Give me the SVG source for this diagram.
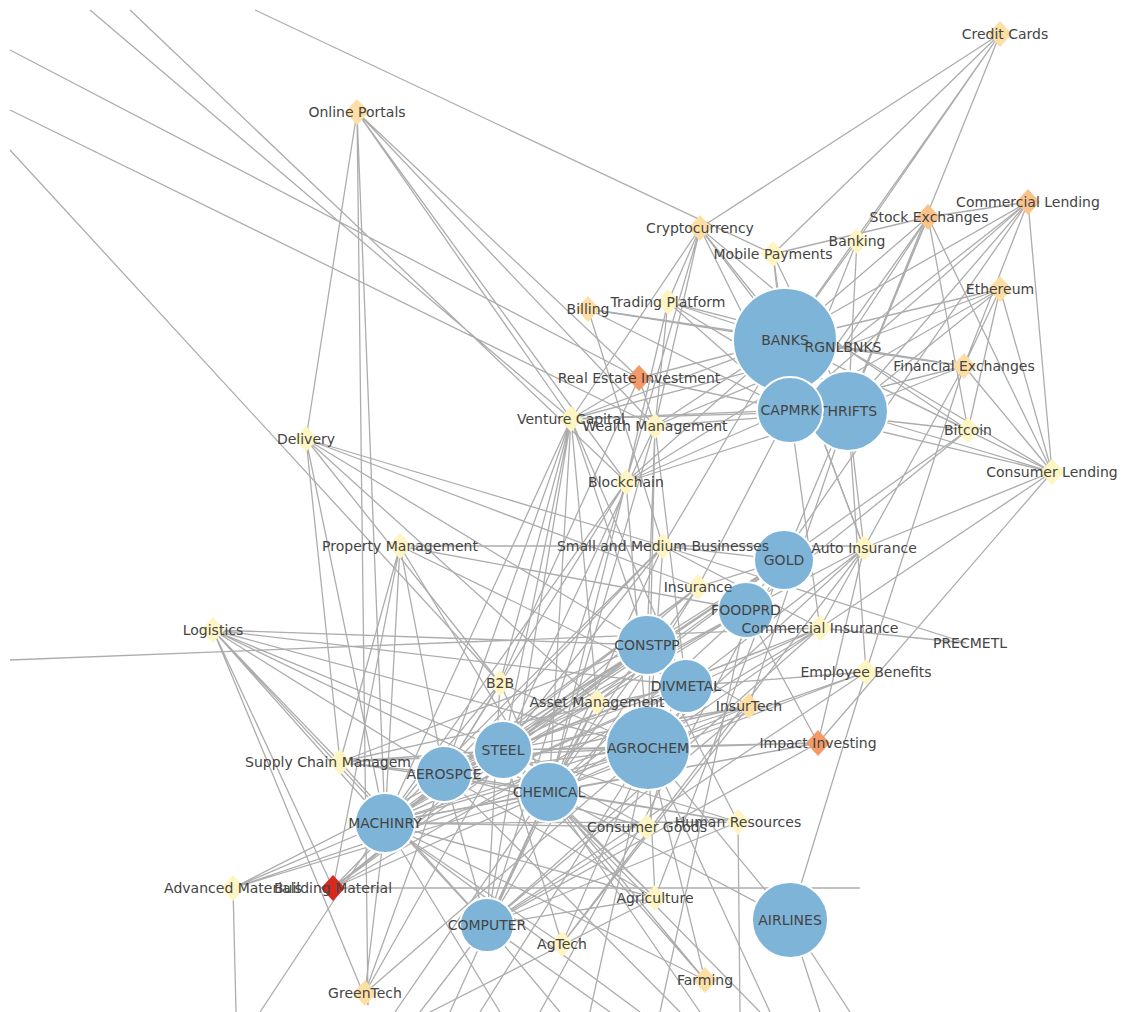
<svg xmlns="http://www.w3.org/2000/svg" width="1144" height="1012" viewBox="0 0 1144 1012">
<style>
.e{stroke:#adadad;stroke-width:1.3;fill:none}
.c{fill:#7db4d8;stroke:#fff;stroke-width:2}
.d{stroke:none}
text{font-family:"Lucida Grande","DejaVu Sans",sans-serif;font-size:14px;fill:#444;text-anchor:middle}
.y{fill:#fef5c2}.o{fill:#fddfa6}.p{fill:#fbc38a}.s{fill:#f49a68}.r{fill:#d62a1f}
</style>
<defs><path id="dm" d="M0,-13L12,0L0,13L-12,0Z"/></defs>
<rect width="1144" height="1012" fill="#fff"/>
<g id="edges" class="e">
<path d="M255,10L773,254M130,10L626,482M90,10L571,419M10,50L639,378M10,110L655,426M10,150L500,683M10,660L820,628"/>
<path d="M357,112L306,439M357,112L368,1005M357,112L571,419M357,112L626,482M357,112L639,378M357,112L385,823M357,112L655,426"/>
<path d="M1000,34L773,254M1000,34L857,241M1000,34L785,340M1000,34L848,411M1000,34L700,228"/>
<path d="M785,340L700,228M785,340L857,241M785,340L773,254M785,340L1000,289M785,340L588,309M785,340L668,302M785,340L639,378M785,340L964,366M785,340L571,419M785,340L655,426M785,340L968,430M785,340L1052,472M785,340L626,482M785,340L928,217M785,340L1028,202M785,340L663,546M785,340L864,548"/>
<path d="M790,410L700,228M790,410L857,241M790,410L773,254M790,410L1000,289M790,410L588,309M790,410L668,302M790,410L639,378M790,410L964,366M790,410L571,419M790,410L968,430M790,410L1052,472M790,410L626,482M790,410L928,217M790,410L1028,202M790,410L698,587M790,410L820,628"/>
<path d="M848,411L700,228M848,411L857,241M848,411L773,254M848,411L1000,289M848,411L668,302M848,411L964,366M848,411L571,419M848,411L655,426M848,411L1052,472M848,411L626,482M848,411L928,217M848,411L1028,202M848,411L864,548M848,411L866,672M848,411L749,706"/>
<path d="M843,347L700,228M843,347L928,217M843,347L1028,202M843,347L1000,289M843,347L588,309M843,347L668,302M843,347L964,366M843,347L655,426M843,347L968,430M843,347L1052,472M843,347L626,482M843,347L571,419"/>
<path d="M1028,202L1052,472M1028,202L964,366M1028,202L928,217M928,217L1052,472M928,217L968,430M928,217L773,254M1000,289L1052,472M1000,289L964,366M1000,289L968,430M964,366L1052,472M700,228L668,302M700,228L626,482M700,228L571,419M700,228L655,426M668,302L626,482M668,302L655,426M588,309L663,546M639,378L571,419M639,378L655,426M639,378L500,683"/>
<path d="M1052,472L864,548M1052,472L818,743M1052,472L820,628M968,430L784,560M968,430L746,610M964,366L820,628M964,366L866,672M928,217L784,560M1028,202L746,610"/>
<path d="M306,439L385,823M306,439L340,762M306,439L663,546M306,439L500,683M306,439L597,702M306,439L647,645M306,439L698,587"/>
<path d="M571,419L444,774M571,419L503,750M571,419L385,823M571,419L549,792M571,419L487,925M571,419L647,645M571,419L597,702M571,419L500,683M571,419L686,686M655,426L648,748M655,426L686,686M655,426L549,792M655,426L503,750M655,426L647,645M626,482L444,774M626,482L487,925M626,482L549,792M626,482L648,748M626,482L385,823"/>
<path d="M400,546L385,823M400,546L444,774M400,546L340,762M400,546L333,888M400,546L863,546M400,546L549,792M400,546L686,686M400,546L746,610"/>
<path d="M663,546L503,750M663,546L444,774M663,546L385,823M663,546L549,792M663,546L487,925M663,546L648,748M663,546L784,560M663,546L820,628M663,546L966,643"/>
<path d="M698,587L503,750M698,587L385,823M698,587L549,792M698,587L444,774M698,587L784,560M698,587L487,925M864,548L686,686M864,548L648,748M864,548L549,792M864,548L746,610M864,548L818,743M864,548L785,340"/>
<path d="M820,628L503,750M820,628L444,774M820,628L549,792M820,628L648,748M820,628L385,823M820,628L487,925M820,628L966,643M866,672L648,748M866,672L549,792M866,672L686,686M866,672L487,925M749,706L385,823M749,706L444,774M749,706L503,750M749,706L549,792M749,706L487,925M749,706L647,645"/>
<path d="M818,743L503,750M818,743L549,792M818,743L648,748M818,743L385,823M818,743L487,925M818,743L746,610"/>
<path d="M213,630L385,823M213,630L444,774M213,630L503,750M213,630L549,792M213,630L647,645M213,630L686,686M213,630L487,925M213,630L648,748M213,630L340,762M213,630L333,888M213,630L368,1005"/>
<path d="M500,683L385,823M500,683L444,774M500,683L549,792M500,683L648,748M500,683L487,925M597,702L385,823M597,702L549,792M597,702L487,925M597,702L444,774M597,702L784,560M597,702L746,610"/>
<path d="M340,762L503,750M340,762L444,774M340,762L549,792M340,762L648,748M340,762L487,925M340,762L686,686M340,762L647,645"/>
<path d="M738,822L503,750M738,822L549,792M738,822L385,823M738,822L444,774M738,822L487,925M738,822L647,645M738,822L740,1012M647,827L503,750M647,827L385,823M647,827L444,774M647,827L487,925M647,827L686,686"/>
<path d="M233,888L385,823M233,888L503,750M233,888L549,792M233,888L648,748M233,888L236,1012M333,888L444,774M333,888L503,750M333,888L549,792M333,888L647,645M333,888L686,686M333,888L784,560M333,888L860,888"/>
<path d="M655,898L503,750M655,898L549,792M655,898L385,823M655,898L444,774M655,898L487,925M655,898L648,748M655,898L784,560M655,898L430,1012M562,944L385,823M562,944L503,750M562,944L648,748M562,944L749,706M562,944L864,548M705,980L648,748M705,980L549,792M705,980L385,823M705,980L503,750M365,993L385,823M365,993L503,750M365,993L648,748M365,993L444,774"/>
<path d="M487,925L420,1012M487,925L560,1012M487,925L610,1012M385,823L500,1012M385,823L640,1012M549,792L700,1012M549,792L450,1012M648,748L590,1012M648,748L770,1012M790,920L850,1012M790,920L820,1012M790,920L648,748M790,920L549,792M790,920L866,672M444,774L680,1012M503,750L760,1012M686,686L480,1012M747,610L660,1012M784,560L540,1012M647,645L395,1012M385,823L260,1012"/>
<path d="M784,560L503,750M784,560L444,774M784,560L385,823M746,610L503,750M746,610L444,774M746,610L549,792M647,645L503,750M647,645L444,774M647,645L385,823M686,686L503,750M686,686L385,823M648,748L503,750M648,748L444,774M648,748L385,823M503,750L385,823M549,792L385,823M549,792L487,925M444,774L487,925"/>
</g>
<g id="n_BANKS"><circle class="c" cx="785" cy="340" r="52"/><text x="785" y="345">BANKS</text></g>
<g id="n_THRIFTS"><circle class="c" cx="848" cy="411" r="40"/><text x="848" y="416">THRIFTS</text></g>
<g id="n_CAPMRK"><circle class="c" cx="790" cy="410" r="33"/><text x="790" y="415">CAPMRK</text></g>
<g id="n_RGNLBNKS"><text x="843" y="352">RGNLBNKS</text></g>
<g id="n_GOLD"><circle class="c" cx="784" cy="560" r="30"/><text x="784" y="565">GOLD</text></g>
<g id="n_FOODPRD"><circle class="c" cx="746" cy="610" r="28"/><text x="746" y="615">FOODPRD</text></g>
<g id="n_CONSTPP"><circle class="c" cx="647" cy="645" r="30"/><text x="647" y="650">CONSTPP</text></g>
<g id="n_DIVMETAL"><circle class="c" cx="686" cy="686" r="27"/><text x="686" y="691">DIVMETAL</text></g>
<g id="n_AGROCHEM"><circle class="c" cx="648" cy="748" r="42"/><text x="648" y="753">AGROCHEM</text></g>
<g id="n_STEEL"><circle class="c" cx="503" cy="750" r="29"/><text x="503" y="755">STEEL</text></g>
<g id="n_AEROSPCE"><circle class="c" cx="444" cy="774" r="28"/><text x="444" y="779">AEROSPCE</text></g>
<g id="n_CHEMICAL"><circle class="c" cx="549" cy="792" r="30"/><text x="549" y="797">CHEMICAL</text></g>
<g id="n_MACHINRY"><circle class="c" cx="385" cy="823" r="30"/><text x="385" y="828">MACHINRY</text></g>
<g id="n_COMPUTER"><circle class="c" cx="487" cy="925" r="27"/><text x="487" y="930">COMPUTER</text></g>
<g id="n_AIRLINES"><circle class="c" cx="790" cy="920" r="38"/><text x="790" y="925">AIRLINES</text></g>
<g id="n_PRECMETL"><text x="970" y="648">PRECMETL</text></g>
<g id="n_cc"><use href="#dm" class="o" x="1000" y="34"/><text x="1005" y="39">Credit Cards</text></g>
<g id="n_op"><use href="#dm" class="o" x="357" y="112"/><text x="357" y="117">Online Portals</text></g>
<g id="n_cl"><use href="#dm" class="p" x="1028" y="202"/><text x="1028" y="207">Commercial Lending</text></g>
<g id="n_se"><use href="#dm" class="p" x="928" y="217"/><text x="929" y="222">Stock Exchanges</text></g>
<g id="n_cr"><use href="#dm" class="o" x="700" y="228"/><text x="700" y="233">Cryptocurrency</text></g>
<g id="n_ba"><use href="#dm" class="y" x="857" y="241"/><text x="857" y="246">Banking</text></g>
<g id="n_mp"><use href="#dm" class="y" x="773" y="254"/><text x="773" y="259">Mobile Payments</text></g>
<g id="n_et"><use href="#dm" class="o" x="1000" y="289"/><text x="1000" y="294">Ethereum</text></g>
<g id="n_bi"><use href="#dm" class="o" x="588" y="309"/><text x="588" y="314">Billing</text></g>
<g id="n_tp"><use href="#dm" class="y" x="668" y="302"/><text x="668" y="307">Trading Platform</text></g>
<g id="n_re"><use href="#dm" class="s" x="639" y="378"/><text x="639" y="383">Real Estate Investment</text></g>
<g id="n_fe"><use href="#dm" class="o" x="964" y="366"/><text x="964" y="371">Financial Exchanges</text></g>
<g id="n_vc"><use href="#dm" class="y" x="571" y="419"/><text x="571" y="424">Venture Capital</text></g>
<g id="n_wm"><use href="#dm" class="y" x="655" y="426"/><text x="655" y="431">Wealth Management</text></g>
<g id="n_bc"><use href="#dm" class="y" x="968" y="430"/><text x="968" y="435">Bitcoin</text></g>
<g id="n_de"><use href="#dm" class="y" x="306" y="439"/><text x="306" y="444">Delivery</text></g>
<g id="n_cld"><use href="#dm" class="y" x="1052" y="472"/><text x="1052" y="477">Consumer Lending</text></g>
<g id="n_bl"><use href="#dm" class="y" x="626" y="482"/><text x="626" y="487">Blockchain</text></g>
<g id="n_pr"><use href="#dm" class="y" x="400" y="546"/><text x="400" y="551">Property Management</text></g>
<g id="n_sm"><use href="#dm" class="y" x="663" y="546"/><text x="663" y="551">Small and Medium Businesses</text></g>
<g id="n_au"><use href="#dm" class="y" x="864" y="548"/><text x="864" y="553">Auto Insurance</text></g>
<g id="n_in"><use href="#dm" class="y" x="698" y="587"/><text x="698" y="592">Insurance</text></g>
<g id="n_ci"><use href="#dm" class="y" x="820" y="628"/><text x="820" y="633">Commercial Insurance</text></g>
<g id="n_lo"><use href="#dm" class="y" x="213" y="630"/><text x="213" y="635">Logistics</text></g>
<g id="n_b2"><use href="#dm" class="y" x="500" y="683"/><text x="500" y="688">B2B</text></g>
<g id="n_eb"><use href="#dm" class="y" x="866" y="672"/><text x="866" y="677">Employee Benefits</text></g>
<g id="n_am"><use href="#dm" class="y" x="597" y="702"/><text x="597" y="707">Asset Management</text></g>
<g id="n_it"><use href="#dm" class="o" x="749" y="706"/><text x="749" y="711">InsurTech</text></g>
<g id="n_ii"><use href="#dm" class="s" x="818" y="743"/><text x="818" y="748">Impact Investing</text></g>
<g id="n_sc"><use href="#dm" class="y" x="340" y="762"/><text x="328" y="767">Supply Chain Managem</text></g>
<g id="n_hr"><use href="#dm" class="y" x="738" y="822"/><text x="738" y="827">Human Resources</text></g>
<g id="n_cg"><use href="#dm" class="y" x="647" y="827"/><text x="647" y="832">Consumer Goods</text></g>
<g id="n_ad"><use href="#dm" class="y" x="233" y="888"/><text x="233" y="893">Advanced Materials</text></g>
<g id="n_bm"><use href="#dm" class="r" x="333" y="888"/><text x="333" y="893">Building Material</text></g>
<g id="n_agr"><use href="#dm" class="y" x="655" y="898"/><text x="655" y="903">Agriculture</text></g>
<g id="n_at"><use href="#dm" class="y" x="562" y="944"/><text x="562" y="949">AgTech</text></g>
<g id="n_fa"><use href="#dm" class="o" x="705" y="980"/><text x="705" y="985">Farming</text></g>
<g id="n_gt"><use href="#dm" class="o" x="365" y="993"/><text x="365" y="998">GreenTech</text></g>
</svg>
